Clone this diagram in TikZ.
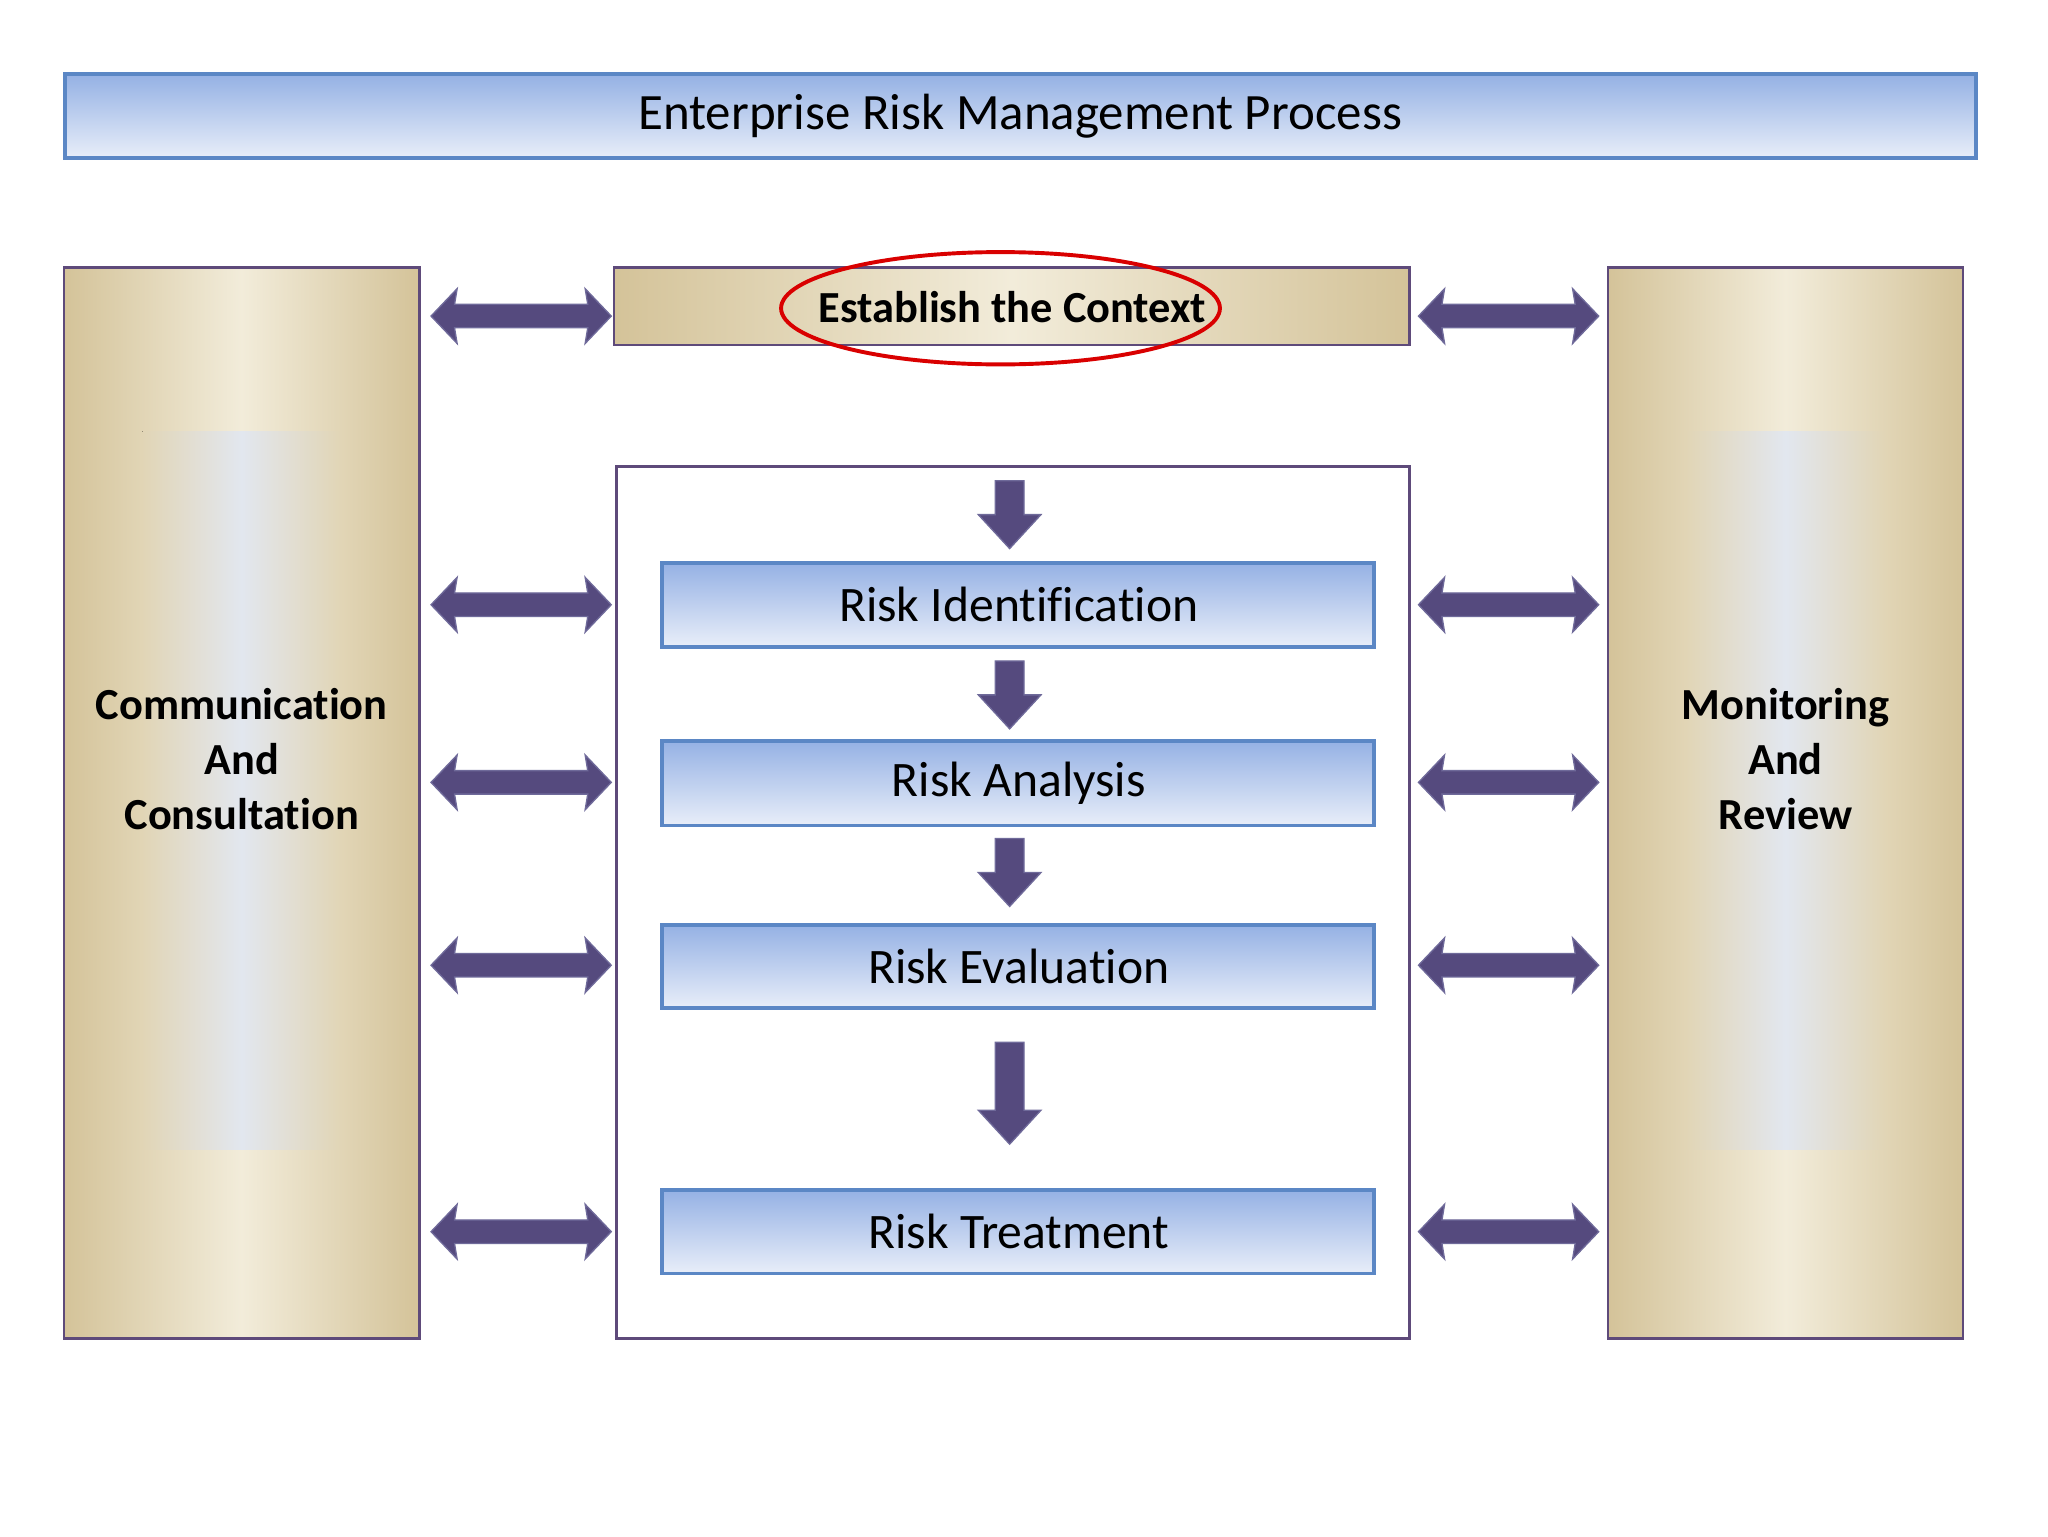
\documentclass[tikz,border=0pt]{standalone}
\usepackage{fontspec}
\setmainfont[Ligatures=NoCommon]{Carlito}
\begin{document}
\begin{tikzpicture}[x=1pt,y=-1pt,
  bluebox/.style={draw=bluebd,line width=3pt,top color=bluetop,bottom color=bluebot},
  tanbox/.style={draw=purpbd,line width=2pt,left color=tan1,right color=tan1,middle color=tanmid},
  blk/.style={fill=arr,draw=arrbd,line width=1pt},
  lbl/.style={font=\fontsize{38}{44}\selectfont},
  blbl/.style={font=\bfseries\fontsize{34}{42}\selectfont,align=center}]
\definecolor{bluebd}{HTML}{5B87C5}
\definecolor{bluetop}{HTML}{95B1E4}
\definecolor{bluebot}{HTML}{E8EEF9}
\definecolor{purpbd}{HTML}{5E4A7A}
\definecolor{tan1}{HTML}{D4C399}
\definecolor{tanmid}{HTML}{F2ECDA}
\definecolor{arr}{HTML}{554A7E}
\definecolor{arrbd}{HTML}{6F6A9A}
\definecolor{glow}{HTML}{E2E7EF}
\colorlet{tanedge}{tanmid!44!tan1}
\useasboundingbox (0,0) rectangle (1568,1176);
\fill[white] (0,0) rectangle (1568,1176);
% title
\draw[bluebox] (50,57) rectangle (1513,121);
\node[lbl,font=\fontsize{39}{44}\selectfont] (title) at (781,89) {Enterprise Risk Management Process};
% side boxes
\foreach \xa/\xb in {49/321,1231/1503}{
  \draw[tanbox] (\xa,205) rectangle (\xb,1025);
  \fill[left color=tanedge,right color=tanedge,middle color=glow] (\xa+60,330) rectangle (\xb-60,880);
}
\node[blbl] (comm) at (185,581) {Communication\\And\\Consultation};
\node[blbl] (mon) at (1367,581) {Monitoring\\And\\Review};
% context
\draw[tanbox] (470,205) rectangle (1079,264);
\node[blbl] (ctx) at (775,235) {Establish the Context};
\draw[red!85!black,line width=3pt] (766,236) ellipse [x radius=168,y radius=43];
% inner box
\draw[purpbd,line width=2pt,fill=white] (472,357) rectangle (1079,1025);
\foreach \ya/\yb/\t/\n in {431/495/Risk Identification/ri,567/632/Risk Analysis/ra,708/772/Risk Evaluation/re,911/975/Risk Treatment/rt}{
  \draw[bluebox] (507,\ya) rectangle (1052,\yb);
  \node[lbl] (\n) at (780,{(\ya+\yb)/2}) {\t};
}
% down arrows
\foreach \ya/\yb in {368/420,506/558,642/694,798/876}{
  \draw[blk] (762,\ya) -- (784,\ya) -- (784,\yb-26) -- (797,\yb-26) -- (773,\yb) -- (749,\yb-26) -- (762,\yb-26) -- cycle;
}
% double arrows
\foreach \y in {242,463,599,739,943}{
  \foreach \xa/\xb in {330/468,1086/1224}{
    \draw[blk] (\xa,\y) -- (\xa+20,\y-21) -- (\xa+18,\y-9) -- (\xb-18,\y-9) -- (\xb-20,\y-21) -- (\xb,\y) -- (\xb-20,\y+21) -- (\xb-18,\y+9) -- (\xa+18,\y+9) -- (\xa+20,\y+21) -- cycle;
  }
}
\end{tikzpicture}
\end{document}
